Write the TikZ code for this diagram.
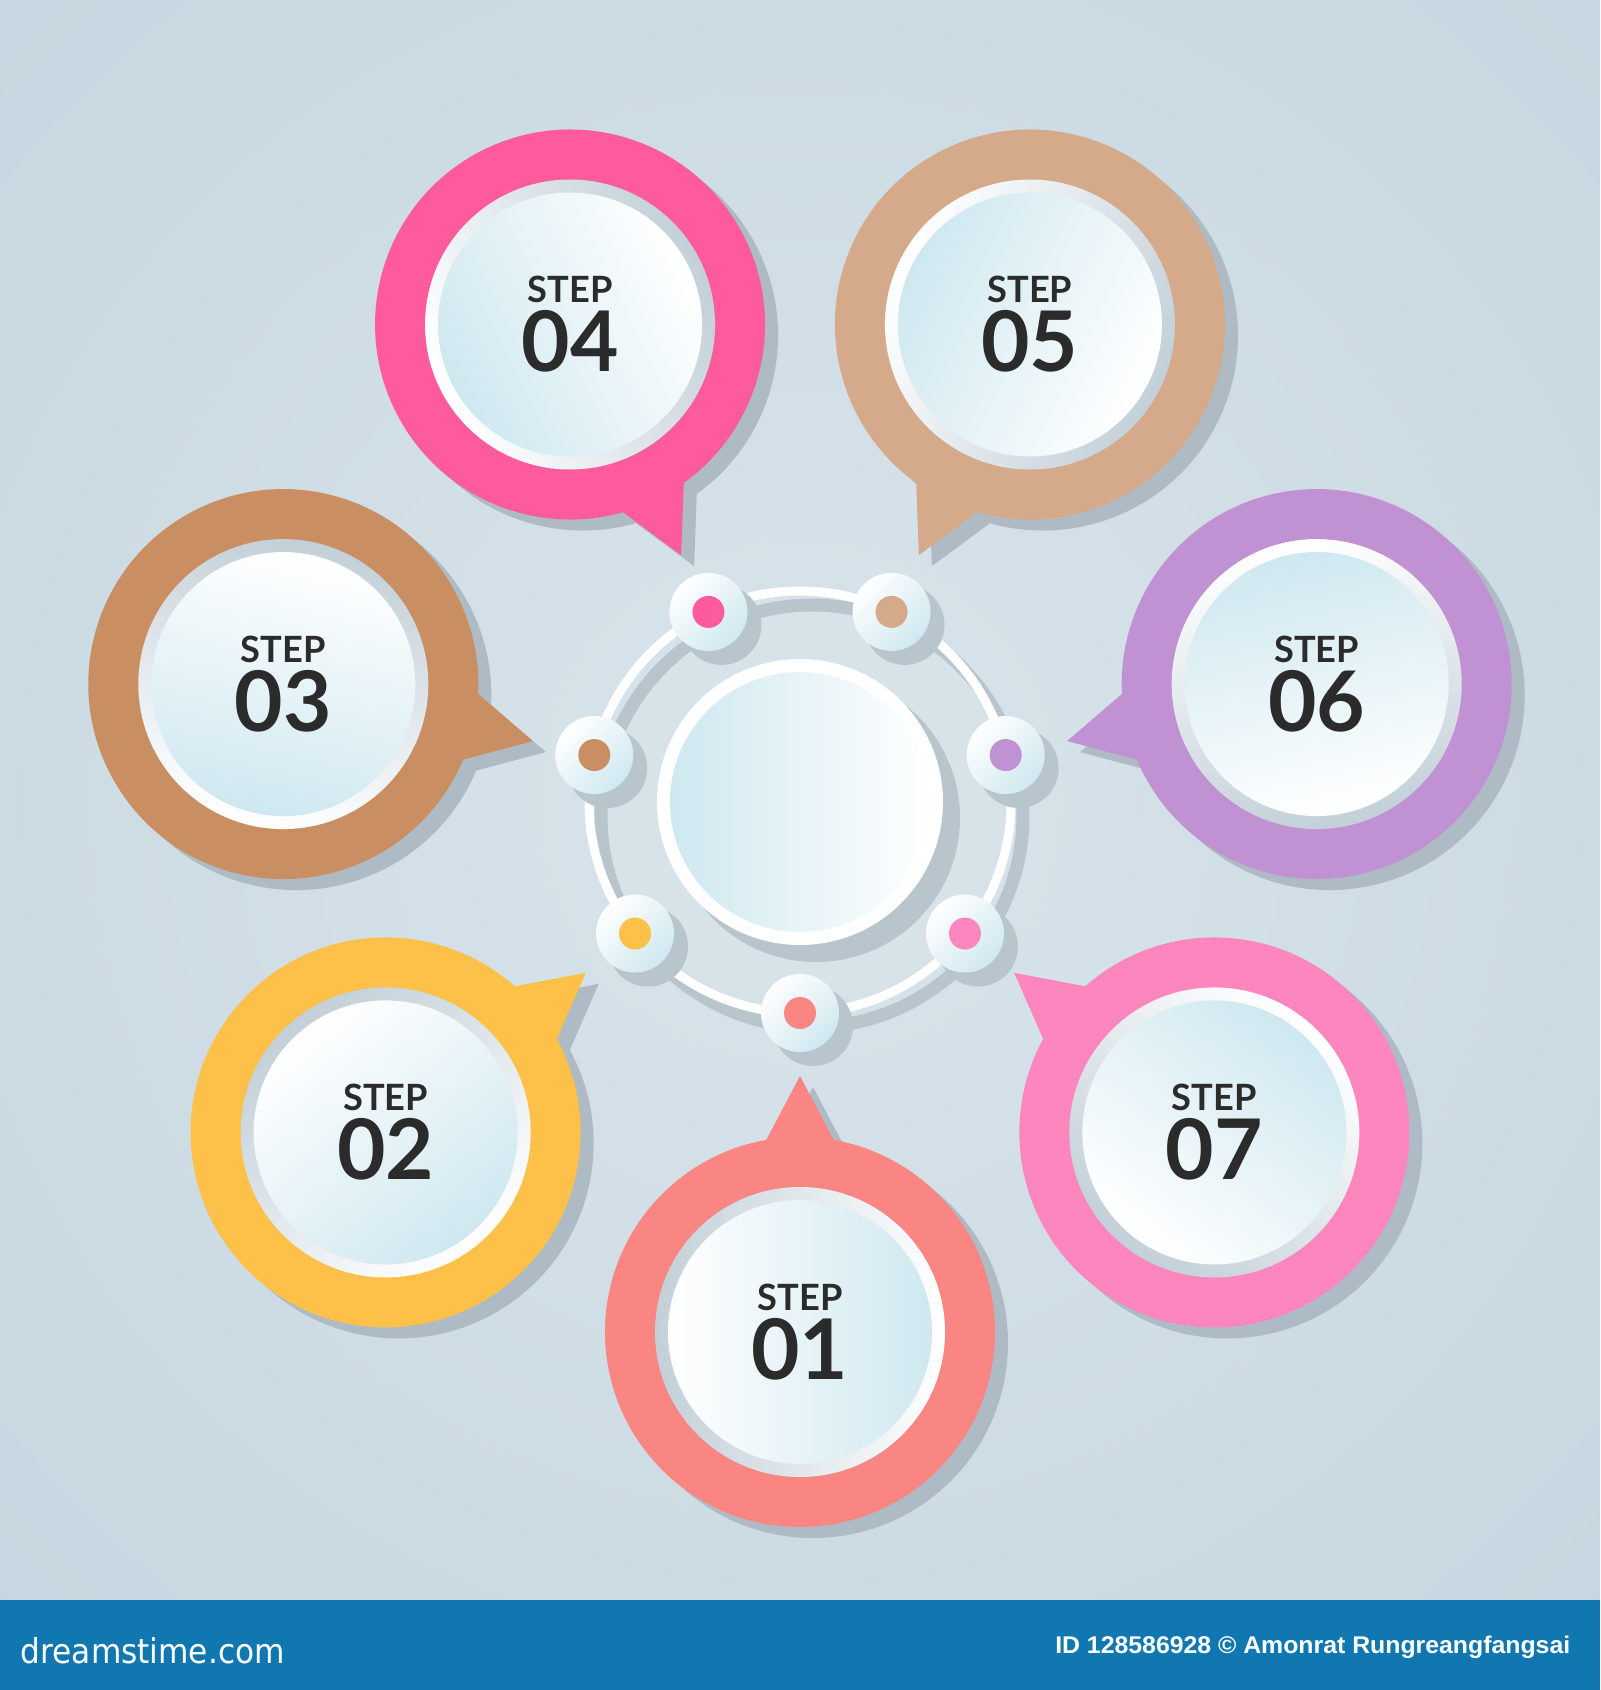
\documentclass[tikz,border=0pt]{standalone}
\usepackage{fontspec}
\usepackage{graphicx}
\newfontfamily\latofont{Lato}
\newfontfamily\dejafont{DejaVu Sans}
\newfontfamily\libfont{Liberation Sans}
\definecolor{bgouter}{HTML}{C0D1DC}
\definecolor{bginner}{HTML}{DAE5EB}
\definecolor{shadowc}{HTML}{AEBBC4}
\definecolor{ringshadow}{HTML}{B8C5CD}
\definecolor{rimgrey}{HTML}{C3D0D8}
\definecolor{diskblue}{HTML}{CFE8F0}
\definecolor{textc}{HTML}{2B2B2B}
\definecolor{barblue}{HTML}{1077B0}
\definecolor{cA}{HTML}{FA8684}
\definecolor{cB}{HTML}{FDC048}
\definecolor{cC}{HTML}{C98F63}
\definecolor{cD}{HTML}{FE5B9F}
\definecolor{cE}{HTML}{D4AA8B}
\definecolor{cF}{HTML}{C091D3}
\definecolor{cG}{HTML}{FD86BE}
\begin{document}
\begin{tikzpicture}[x=0.1mm,y=0.1mm,
  steplabel/.style={font=\latofont\bfseries\fontsize{10.3}{12}\selectfont, text=textc, anchor=base, inner sep=0},
  stepnum/.style={font=\latofont\bfseries\fontsize{23.8}{28}\selectfont, text=textc, anchor=base, inner sep=0},
  bartext/.style={text=white, inner sep=0}]
\useasboundingbox (-800,-888) rectangle (800,802);
% background
\fill[bgouter] (-800,-888) rectangle (800,802);
\begin{scope}
  \clip (-800,-798) rectangle (800,802);
  \shade[inner color=bginner, outer color=bgouter] (0,0) circle (1500);
\end{scope}
% bottom bar
\fill[barblue] (-800,-888) rectangle (800,-798);
\node[bartext, anchor=base west] (logo) at (-780,-861) {\resizebox{26.4mm}{2.6mm}{\dejafont dreamstime.com}};
\node[bartext, anchor=base east] (credit) at (771,-851) {\resizebox{51.5mm}{1.75mm}{\libfont\bfseries ID 128586928 © Amonrat Rungreangfangsai}};
% bubbles
\foreach \k/\col in {1/cA,2/cB,3/cC,4/cD,5/cE,6/cF,7/cG}{
  \pgfmathsetmacro{\ang}{270-(\k-1)*360/7}
  \pgfmathsetmacro{\rot}{-(\k-1)*360/7}
  \coordinate (b\k) at (\ang:530);
  \begin{scope}[shift={(b\k)}, shift={(13,-11)}, rotate=\rot]
    \fill[shadowc] (0,0) circle (195);
    \fill[shadowc] (-38,184) -- (0,256) -- (38,184) -- cycle;
  \end{scope}
  \begin{scope}[shift={(b\k)}, rotate=\rot]
    \fill[\col] (0,0) circle (195);
    \fill[\col] (-38,184) -- (0,256) -- (38,184) -- cycle;
  \end{scope}
  \shade[top color=white, bottom color=rimgrey, shading angle=-90+\rot] (b\k) circle (145);
  \shade[top color=white, bottom color=diskblue, shading angle=90+\rot] (b\k) circle (132);
  \node[steplabel] (lab\k) at ([yshift=2.2mm]b\k) {STEP};
  \node[stepnum] (num\k) at ([yshift=-4.7mm]b\k) {0\k};
}
% central ring
\coordinate (c) at (0,0);
\draw[ringshadow, line width=1.3mm] ([shift={(12,-14)}]c) circle (211);
\draw[white, line width=0.9mm] (c) circle (211);
% central disk
\fill[ringshadow] ([shift={(16,-16)}]c) circle (144);
\fill[white] (c) circle (143);
\shade[top color=white, bottom color=diskblue, shading angle=-90] (c) circle (130);
% small nodes
\foreach \k/\col in {1/cA,2/cB,3/cC,4/cD,5/cE,6/cF,7/cG}{
  \pgfmathsetmacro{\ang}{270-(\k-1)*360/7}
  \coordinate (n\k) at (\ang:211);
  \fill[ringshadow] ([shift={(13,-13)}]n\k) circle (40);
  \shade[top color=white, bottom color=diskblue, shading angle=45] (n\k) circle (39);
  \fill[\col] (n\k) circle (16);
}
\end{tikzpicture}
\end{document}
